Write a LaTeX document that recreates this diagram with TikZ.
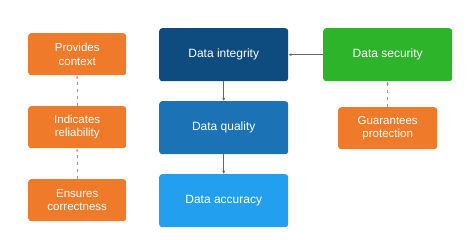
\documentclass[tikz,border=0pt]{standalone}
\usepackage{fontspec}
\setmainfont{Liberation Sans}
\usetikzlibrary{arrows.meta}
\definecolor{orng}{HTML}{EF7A2A}
\definecolor{dblue}{HTML}{0E4C7F}
\definecolor{mblue}{HTML}{1B72B5}
\definecolor{lblue}{HTML}{229FEF}
\definecolor{grn}{HTML}{2DB42B}
\definecolor{dashc}{HTML}{E97B6E}
\begin{document}
\begin{tikzpicture}[x=1pt,y=-1pt,
  box/.style={rounded corners=3pt, text=white, align=center, inner sep=0pt, anchor=north west},
  obox/.style={box, fill=orng, minimum width=98pt, minimum height=42pt, font=\fontsize{11.5}{13.5}\selectfont},
  bbox/.style={box, minimum width=129pt, minimum height=53pt, font=\fontsize{12}{14}\selectfont},
  solidarr/.style={draw=black!60, line width=0.7pt, -{Latex[length=3pt,width=3pt]}},
  dasharr/.style={draw=dashc, line width=0.6pt, dash pattern=on 3pt off 4pt, -{Latex[length=3pt,width=2.5pt]}}]
\useasboundingbox (0,0) rectangle (474,240);
\fill[white] (0,0) rectangle (474,240);
\node[obox] (ctx) at (28,33) {Provides\\context};
\node[obox] (rel) at (28,106) {Indicates\\reliability};
\node[obox] (cor) at (28,179) {Ensures\\correctness};
\node[bbox, fill=dblue] (int) at (159,28) {Data integrity};
\node[bbox, fill=mblue] (qual) at (159,101) {Data quality};
\node[bbox, fill=lblue] (acc) at (159,174) {Data accuracy};
\node[bbox, fill=grn] (sec) at (323,28) {Data security};
\node[obox, minimum width=99pt] (prot) at (338,107) {Guarantees\\protection};
\draw[solidarr] (int) -- (qual);
\draw[solidarr] (qual) -- (acc);
\draw[solidarr] (sec) -- (int);
\draw[dasharr] (cor) -- (rel);
\draw[dasharr] (rel) -- (ctx);
\draw[dasharr] (prot.north) -- (prot.north |- sec.south);
\end{tikzpicture}
\end{document}
